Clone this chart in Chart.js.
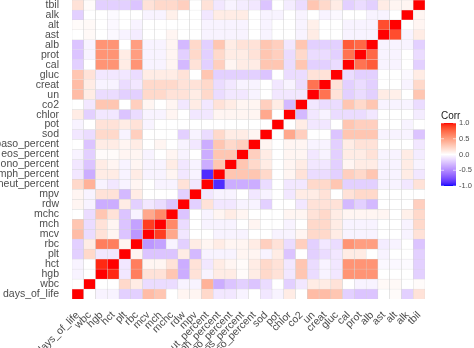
<!DOCTYPE html>
<html>
<head>
<meta charset="utf-8">
<title>Corr</title>
<script src="https://cdn.jsdelivr.net/npm/chart.js@4.4.1/dist/chart.umd.min.js"></script>
<style>
  html, body { margin: 0; padding: 0; background: #fff; }
  #wrap { width: 474px; height: 348px; position: relative; }
</style>
</head>
<body>
<div id="wrap"><canvas id="corrChart" width="474" height="348"></canvas></div>
<script>
// variables, in axis order (left column / bottom row first)
const vars = [
  'days_of_life', 'wbc', 'hgb', 'hct', 'plt', 'rbc', 'mcv', 'mch', 'mchc', 'rdw',
  'mpv', 'neut_percent', 'lymph_percent', 'mono_percent', 'eos_percent', 'baso_percent',
  'sod', 'pot', 'chlor', 'co2', 'un', 'creat', 'gluc', 'cal', 'prot', 'alb',
  'ast', 'alt', 'alk', 'tbil'
];

// lower triangle: lowerTri[i][j] = corr(vars[i], vars[j]) for j < i
const lowerTri = [
  [],
  [0.0],
  [-0.05, 0.0],
  [-0.05, 0.0, 0.95],
  [-0.2, 0.2, -0.1, -0.1],
  [-0.2, 0.1, 0.65, 0.65, 0.05],
  [0.35, -0.15, 0.15, 0.05, -0.25, -0.45],
  [0.3, -0.15, 0.15, 0.05, -0.25, -0.4, 0.9],
  [0.0, -0.15, 0.3, 0.15, -0.25, -0.05, 0.45, 0.6],
  [0.05, -0.05, -0.35, -0.35, 0.1, -0.2, -0.1, -0.15, -0.25],
  [0.05, -0.05, 0.15, 0.15, -0.3, 0.1, 0.0, 0.0, 0.0, -0.2],
  [0.2, 0.4, -0.05, -0.1, -0.05, 0.05, 0.0, -0.05, -0.05, 0.15, -0.1],
  [-0.1, -0.35, 0.1, 0.1, -0.05, 0.1, -0.05, -0.05, 0.05, -0.1, -0.05, -0.9],
  [-0.1, -0.25, 0.1, 0.05, -0.05, 0.05, -0.05, -0.05, 0.1, -0.1, -0.05, -0.35, 0.3],
  [-0.05, -0.2, 0.02, 0.02, 0.05, 0.05, -0.05, 0.0, 0.05, -0.05, 0.0, -0.35, 0.3, 0.3],
  [0.0, -0.25, 0.1, 0.1, 0.05, 0.1, 0.0, 0.05, 0.0, -0.05, -0.1, -0.35, 0.3, 0.2, 0.25],
  [-0.1, -0.15, 0.2, 0.2, -0.05, 0.25, 0.0, 0.0, 0.0, -0.2, -0.05, -0.15, 0.2, 0.1, 0.1, 0.05],
  [-0.05, 0.0, 0.15, 0.15, 0.1, 0.15, -0.05, 0.0, 0.0, 0.0, 0.0, 0.0, 0.0, 0.0, 0.0, 0.0, 0.0],
  [0.1, -0.2, -0.1, -0.1, -0.25, -0.15, -0.05, -0.05, 0.05, 0.0, -0.1, -0.1, 0.05, 0.05, 0.05, 0.05, 0.45, 0.0],
  [0.0, -0.1, 0.3, 0.3, 0.0, 0.25, 0.05, 0.0, 0.05, -0.1, 0.1, -0.1, 0.15, 0.1, 0.05, 0.05, 0.25, 0.1, -0.3],
  [0.35, 0.1, -0.15, -0.15, -0.2, -0.2, 0.2, 0.2, 0.15, 0.15, 0.1, 0.2, -0.15, -0.1, -0.1, -0.05, 0.0, -0.1, -0.1, -0.1],
  [0.35, 0.1, -0.05, -0.05, -0.15, -0.1, 0.2, 0.2, 0.2, 0.15, 0.15, 0.2, -0.15, -0.1, -0.05, -0.05, 0.0, -0.1, -0.05, -0.15, 0.7],
  [0.3, 0.15, -0.1, -0.1, -0.1, -0.15, 0.1, 0.1, 0.1, 0.15, 0.0, 0.3, -0.2, -0.2, -0.2, -0.2, -0.25, 0.0, -0.15, -0.15, 0.15, 0.15],
  [-0.2, 0.0, 0.55, 0.55, 0.1, 0.55, -0.05, -0.05, 0.05, -0.3, 0.15, -0.2, 0.25, 0.05, 0.1, 0.1, 0.3, 0.3, -0.15, 0.3, -0.2, -0.2, -0.15],
  [-0.25, -0.05, 0.55, 0.55, 0.1, 0.5, -0.05, -0.05, 0.05, -0.2, 0.2, -0.2, 0.2, 0.1, 0.1, 0.15, 0.3, 0.25, -0.15, 0.2, -0.15, -0.15, -0.2, 0.7],
  [-0.25, -0.05, 0.55, 0.55, 0.0, 0.5, -0.05, -0.05, 0.05, -0.3, 0.2, -0.2, 0.3, 0.1, 0.15, 0.15, 0.3, 0.25, -0.1, 0.3, -0.2, -0.2, -0.2, 0.8, 0.75],
  [0.0, 0.03, 0.0, -0.03, -0.05, -0.08, 0.0, 0.0, 0.05, 0.0, 0.0, -0.05, -0.05, -0.05, -0.05, 0.0, -0.05, 0.0, 0.0, -0.05, 0.1, 0.0, 0.0, -0.05, -0.05, -0.05],
  [0.02, 0.03, 0.0, -0.03, 0.0, -0.05, 0.0, 0.0, 0.0, 0.0, 0.0, -0.05, -0.05, -0.05, -0.05, 0.0, -0.05, 0.0, 0.0, -0.05, 0.08, 0.0, 0.0, -0.05, -0.05, -0.05, 0.85],
  [-0.2, 0.0, 0.0, -0.02, 0.0, 0.0, -0.05, -0.05, 0.08, 0.0, 0.0, -0.1, 0.1, 0.1, 0.1, 0.0, -0.05, -0.05, 0.0, -0.05, 0.0, -0.05, -0.03, 0.0, 0.0, -0.05, -0.05, 0.0],
  [0.15, 0.02, -0.2, -0.2, -0.2, -0.25, 0.15, 0.2, 0.2, 0.25, 0.0, 0.15, -0.1, -0.05, -0.08, -0.1, -0.25, 0.0, -0.08, -0.15, 0.3, 0.2, 0.1, -0.2, -0.15, -0.2, 0.1, 0.05, 0.05]
];

const legendTicks = [1, 0.5, 0, -0.5, -1];

function corr(i, j) {
  if (i === j) return 1;
  return i > j ? lowerTri[i][j] : lowerTri[j][i];
}

// blue - white - red, interpolated in Lab space
const WX = 0.95047, WZ = 1.08883;
function toLin(c) { c /= 255; return c <= 0.04045 ? c / 12.92 : Math.pow((c + 0.055) / 1.055, 2.4); }
function toByte(c) {
  c = c <= 0.0031308 ? 12.92 * c : 1.055 * Math.pow(c, 1 / 2.4) - 0.055;
  return Math.round(Math.max(0, Math.min(1, c)) * 255);
}
function rgbToLab(rgb) {
  const [r, g, b] = rgb.map(toLin);
  const x = (0.4124 * r + 0.3576 * g + 0.1805 * b) / WX;
  const y = 0.2126 * r + 0.7152 * g + 0.0722 * b;
  const z = (0.0193 * r + 0.1192 * g + 0.9505 * b) / WZ;
  const f = t => t > 0.008856 ? Math.cbrt(t) : 7.787 * t + 16 / 116;
  return [116 * f(y) - 16, 500 * (f(x) - f(y)), 200 * (f(y) - f(z))];
}
function labToRgb([L, a, bb]) {
  const fy = (L + 16) / 116, fx = fy + a / 500, fz = fy - bb / 200;
  const inv = t => t > 0.206893 ? t * t * t : (t - 16 / 116) / 7.787;
  const x = inv(fx) * WX, y = inv(fy), z = inv(fz) * WZ;
  const r = 3.2406 * x - 1.5372 * y - 0.4986 * z;
  const g = -0.9689 * x + 1.8758 * y + 0.0415 * z;
  const b = 0.0557 * x - 0.2040 * y + 1.0570 * z;
  return `rgb(${toByte(r)},${toByte(g)},${toByte(b)})`;
}
const labLow = rgbToLab([0, 0, 255]);
const labMid = rgbToLab([255, 255, 255]);
const labHigh = rgbToLab([255, 0, 0]);
function corrColor(v) {
  const end = v < 0 ? labLow : labHigh;
  const t = Math.min(1, Math.abs(v));
  return labToRgb(labMid.map((m, k) => m + (end[k] - m) * t));
}

const FONT = '"Liberation Sans", Arial, sans-serif';

// one stacked dataset per row variable; every cell is one unit tall
const datasets = vars.map((name, i) => ({
  label: name,
  data: vars.map(() => 1),
  backgroundColor: vars.map((_, j) => corrColor(corr(i, j))),
  borderColor: '#d4d4d4',
  borderWidth: 0.5,
  barPercentage: 1,
  categoryPercentage: 1
}));

// colour bar legend on the right
const corrLegend = {
  id: 'corrLegend',
  afterDraw(chart) {
    const { ctx, chartArea } = chart;
    const x = chartArea.right + 16, w = 15;
    const top = 123, bottom = 186;
    const grad = ctx.createLinearGradient(0, top, 0, bottom);
    for (let s = 0; s <= 40; s++) grad.addColorStop(s / 40, corrColor(1 - s / 20));
    ctx.save();
    ctx.fillStyle = grad;
    ctx.fillRect(x, top, w, bottom - top);

    ctx.fillStyle = '#1a1a1a';
    ctx.font = `10px ${FONT}`;
    ctx.textAlign = 'left';
    ctx.textBaseline = 'alphabetic';
    ctx.fillText('Corr', x, top - 4);

    ctx.font = `7.5px ${FONT}`;
    ctx.textBaseline = 'middle';
    legendTicks.forEach(v => {
      const y = top + (1 - v) / 2 * (bottom - top);
      ctx.strokeStyle = '#fff';
      ctx.lineWidth = 0.6;
      ctx.beginPath();
      ctx.moveTo(x, y); ctx.lineTo(x + 3, y);
      ctx.moveTo(x + w - 3, y); ctx.lineTo(x + w, y);
      ctx.stroke();
      ctx.fillStyle = '#4d4d4d';
      ctx.fillText(v.toFixed(1), x + w + 3, y);
    });
    ctx.restore();
  }
};

new Chart(document.getElementById('corrChart'), {
  type: 'bar',
  data: { labels: vars, datasets },
  options: {
    responsive: false,
    animation: false,
    devicePixelRatio: 1,
    layout: { padding: { left: 0, right: 49, top: 0, bottom: 0 } },
    plugins: { legend: { display: false }, tooltip: { enabled: false } },
    scales: {
      x: {
        stacked: true,
        grid: { display: false },
        border: { display: false },
        ticks: {
          autoSkip: false,
          minRotation: 45,
          maxRotation: 45,
          padding: 2,
          color: '#4d4d4d',
          font: { size: 10.5, family: FONT }
        },
        afterFit(scale) {
          scale.height = 49;
          scale.paddingLeft = 0;
          scale.paddingRight = 0;
        }
      },
      y: {
        stacked: true,
        min: 0,
        max: vars.length,
        grid: { display: false },
        border: { display: false },
        afterBuildTicks(scale) {
          scale.ticks = vars.map((_, i) => ({ value: i + 0.5 }));
        },
        ticks: {
          autoSkip: false,
          padding: 5,
          color: '#4d4d4d',
          font: { size: 10.5, family: FONT },
          callback: v => vars[Math.floor(v)]
        },
        afterFit(scale) {
          scale.width = 72;
          scale.paddingTop = 0;
          scale.paddingBottom = 0;
        }
      }
    }
  },
  plugins: [corrLegend]
});
</script>
</body>
</html>
